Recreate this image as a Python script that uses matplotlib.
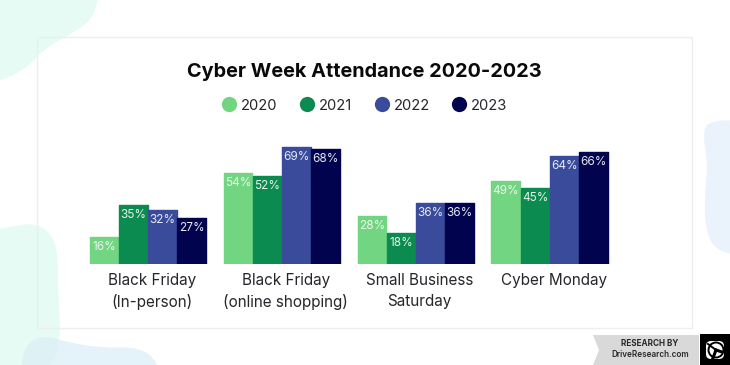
import matplotlib
matplotlib.use("Agg")
import matplotlib.pyplot as plt
import numpy as np
from matplotlib.lines import Line2D
from matplotlib.patches import PathPatch, Rectangle, FancyBboxPatch, Polygon, Circle
from matplotlib.path import Path
from matplotlib.transforms import ScaledTranslation

categories = ["Black Friday\n(In-person)", "Black Friday\n(online shopping)",
              "Small Business\nSaturday", "Cyber Monday"]
years = ["2020", "2021", "2022", "2023"]
v2020 = [16, 54, 28, 49]
v2021 = [35, 52, 18, 45]
v2022 = [32, 69, 36, 64]
v2023 = [27, 68, 36, 66]
series = [v2020, v2021, v2022, v2023]
colors = ["#72D582", "#0C8B50", "#3A4B9B", "#01034F"]
label_colors = ["#EAF8EC", "#E4F4EA", "#E6E9F5", "#E6E7F0"]
TEXT = "#26262B"
FONT = "Inter"

W, H = 730, 365
fig = plt.figure(figsize=(W / 100, H / 100), dpi=100, facecolor="white")

# decoration layer in pixel coordinates
bg = fig.add_axes([0, 0, 1, 1], zorder=0)
bg.set_xlim(0, W)
bg.set_ylim(H, 0)
bg.axis("off")


def blob(points, color, alpha=1.0):
    pts = np.array(points, dtype=float)
    mids = (pts + np.roll(pts, -1, axis=0)) / 2
    verts = [mids[-1]]
    codes = [Path.MOVETO]
    for p, m in zip(pts, mids):
        verts += [p, m]
        codes += [Path.CURVE3, Path.CURVE3]
    bg.add_patch(PathPatch(Path(verts, codes), fc=color, ec="none", alpha=alpha))


blob([(-20, -20), (100, -20), (96, 15), (77, 31), (46, 47), (28, 67), (0, 82), (-20, 80)], "#E5FBF3")
blob([(-20, 232), (15, 226), (35, 223), (52, 234), (58, 255), (58, 297), (61, 335), (52, 372), (-20, 380)], "#E5FBF3")
blob([(20, 380), (24, 345), (43, 335), (67, 342), (100, 348), (140, 347), (158, 362), (160, 385)], "#DCEFF8", 0.75)
blob([(745, 121), (715, 120), (702, 128), (708, 165), (704, 200), (706, 232), (716, 251), (745, 256)], "#EAF2FC")

bg.add_patch(Rectangle((37, 36.5), 655, 291.5, fc="none", ec="#EEEEEE", lw=1))

# footer badge
bg.add_patch(Polygon([(593, 335), (699, 335), (699, 365), (593, 365), (599, 350)], fc="#D9D9D9", ec="none"))
bg.add_patch(Rectangle((700, 334), 30, 31, fc="black", ec="none"))
bg.add_patch(FancyBboxPatch((706, 341), 18, 18, boxstyle="round,pad=0,rounding_size=5", fc="white", ec="none"))
bg.add_patch(Circle((716, 350), 7.5, fc="none", ec="black", lw=1.4))
bg.plot([716, 708], [350, 344], color="black", lw=1.4)
bg.plot([716, 722], [350, 352], color="black", lw=2.2)
bg.plot([716, 713], [350, 358], color="black", lw=2.2)
bg.text(650, 344, "RESEARCH BY", ha="center", va="center", fontsize=5.9, fontweight="bold",
        color="#2A2A2A", family=FONT)
bg.text(650, 354.5, "DriveResearch.com", ha="center", va="center", fontsize=5.9, fontweight="semibold",
        color="#2A2A2A", family=FONT)

bg.text(364.5, 72, "Cyber Week Attendance 2020-2023", ha="center", va="center", fontsize=14.3,
        fontweight="bold", color="#0A0A0A", family=FONT)

# chart axes: -0.5..3.5 spans px 81..616.6, 0..75 spans px 263.7..137.2
ax = fig.add_axes([81 / W, 1 - 263.7 / H, 535.6 / W, 126.5 / H], zorder=1)
ax.patch.set_alpha(0)
ax.set_xlim(-0.5, 3.5)
ax.set_ylim(0, 75)
for s in ax.spines.values():
    s.set_visible(False)
ax.set_yticks([])
ax.set_xticks(range(len(categories)))
ax.set_xticklabels(categories, fontsize=11, color=TEXT, family=FONT, linespacing=1.45)
ax.tick_params(axis="x", length=0, pad=7)
shift = ScaledTranslation(4 / 72 * 0.72, 0, fig.dpi_scale_trans)
for lab in ax.get_xticklabels():
    lab.set_transform(lab.get_transform() + shift)

x = np.arange(len(categories))
bw = 0.2182
for i, (vals, c, lc) in enumerate(zip(series, colors, label_colors)):
    pos = x + (i - 1.5) * bw
    ax.bar(pos, vals, width=bw * 0.985, color=c, edgecolor=c, linewidth=1.0, joinstyle="round")
    for px, v in zip(pos, vals):
        ax.annotate(f"{v}%", (px, v), xytext=(0, -7.2), textcoords="offset points",
                    ha="center", va="center", fontsize=8.5, color=lc, family=FONT)

handles = [Line2D([], [], linestyle="none", marker="o", markersize=11, color=c, markeredgewidth=0)
           for c in colors]
leg = fig.legend(handles, years, ncol=4, loc="center", bbox_to_anchor=(364.5 / W, 1 - 105.5 / H),
                 frameon=False, handletextpad=0.32, columnspacing=1.5, handlelength=1.0,
                 prop={"family": FONT, "size": 10.6}, labelcolor=TEXT)

fig.savefig("out.png", dpi=100, facecolor="white")
